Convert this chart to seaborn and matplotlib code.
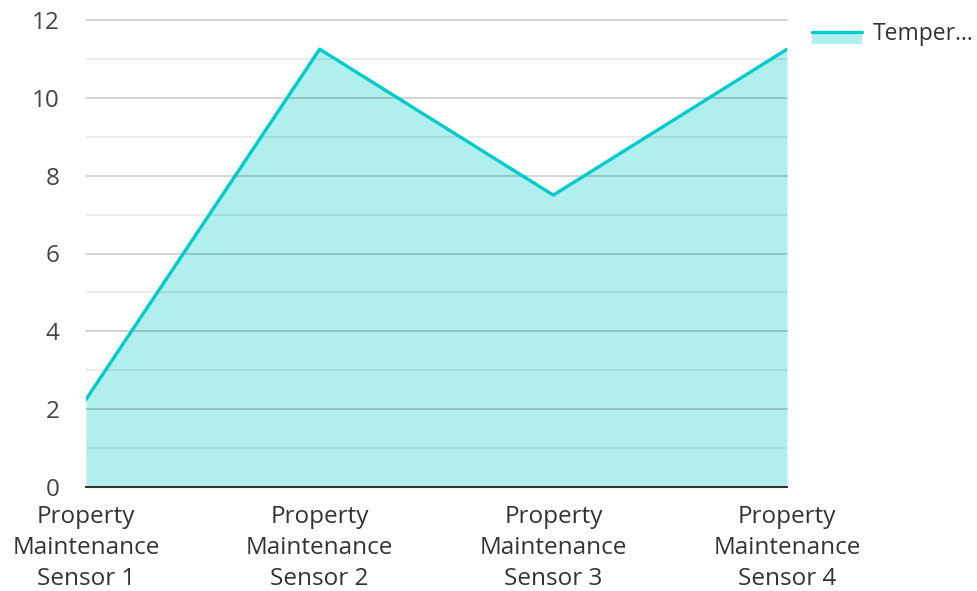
import numpy as np
import pandas as pd
import seaborn as sns
import matplotlib.pyplot as plt
from matplotlib.lines import Line2D
from matplotlib.patches import Patch, Rectangle
from matplotlib.legend_handler import HandlerPatch

sensors = ["Property\nMaintenance\nSensor 1", "Property\nMaintenance\nSensor 2",
           "Property\nMaintenance\nSensor 3", "Property\nMaintenance\nSensor 4"]
temperature = [2.25, 11.25, 7.5, 11.25]
yticks = [0, 2, 4, 6, 8, 10, 12]

sns.set_theme(style="white")
plt.rcParams['font.family'] = ['Open Sans', 'DejaVu Sans']

df = pd.DataFrame({"pos": np.arange(len(sensors)), "Temperature": temperature})

fig = plt.figure(figsize=(9.77, 5.91), dpi=100)
ax = fig.add_axes([86/977, 1-487/591, (787-86)/977, (487-20)/591])

line_c = "#00cccc"
fill_c = "#b0efed"
ax.fill_between(df["pos"], df["Temperature"], 0, color=fill_c, zorder=1, lw=0)
sns.lineplot(data=df, x="pos", y="Temperature", color=line_c, lw=2.4, ax=ax, zorder=3)

ax.set_xlim(0, len(sensors)-1)
ax.set_ylim(0, 12)
ax.set_yticks(yticks)
ax.set_yticks(np.arange(1, 12, 2), minor=True)
ax.set_xticks(df["pos"])
ax.set_xticklabels(sensors, linespacing=1.4)
ax.set_axisbelow(False)
ax.grid(axis="y", which="major", color="black", alpha=0.2, lw=1.2, zorder=2)
ax.grid(axis="y", which="minor", color="black", alpha=0.09, lw=1.2, zorder=2)
ax.grid(axis="x", visible=False)
for gl in ax.get_ygridlines():
    gl.set_clip_on(False)
for s in ["top", "right", "left"]:
    ax.spines[s].set_visible(False)
ax.spines["bottom"].set_color("#333333")
ax.spines["bottom"].set_linewidth(1.5)
ax.spines["bottom"].set_zorder(4)
ax.tick_params(axis="both", which="both", length=0, labelsize=17.5, labelcolor="#444444")
ax.tick_params(axis="x", pad=13, labelcolor="#333333")
ax.tick_params(axis="y", pad=19)
ax.set_xlabel("")
ax.set_ylabel("")


def lower_box(legend, orig_handle, xdescent, ydescent, width, height, fontsize):
    return Rectangle((-xdescent, -ydescent - 0.25 * height), width, 0.75 * height)


handle = (Patch(facecolor=fill_c, edgecolor="none"), Line2D([], [], color=line_c, lw=2.4))
leg = ax.legend([handle], ["Temper..."], loc="upper left", bbox_to_anchor=(1.0357, 0.996),
                frameon=False, fontsize=16.5, handlelength=2.2, handletextpad=0.45,
                borderpad=0, borderaxespad=0,
                handler_map={Patch: HandlerPatch(patch_func=lower_box)})
for t in leg.get_texts():
    t.set_color("#333333")

plt.savefig("out.png", dpi=100)
